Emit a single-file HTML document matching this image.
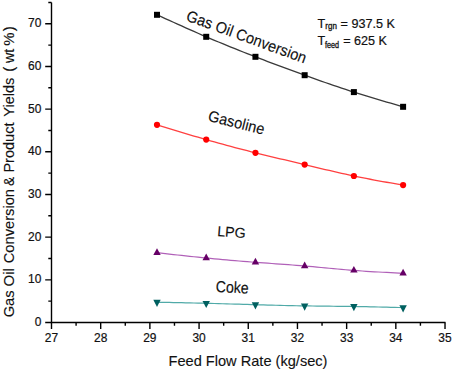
<!DOCTYPE html>
<html><head><meta charset="utf-8"><style>
html,body{margin:0;padding:0;background:#fff;}
svg{display:block;}
.t{font-family:"Liberation Sans",sans-serif;font-size:12.6px;fill:#111;stroke:#111;stroke-width:0.2px;}
.ti{font-family:"Liberation Sans",sans-serif;font-size:14.6px;fill:#111;stroke:#111;stroke-width:0.12px;}
.s{font-size:8.4px;stroke-width:0.3px;}
</style></head><body>
<svg width="456" height="370" viewBox="0 0 456 370">
<path d="M51.5,2.5 V322.5 H445.5" fill="none" stroke="#000" stroke-width="1.4"/>
<path d="M45.2,322.50 H51.5 M48.3,301.17 H51.5 M45.2,279.83 H51.5 M48.3,258.50 H51.5 M45.2,237.16 H51.5 M48.3,215.82 H51.5 M45.2,194.49 H51.5 M48.3,173.16 H51.5 M45.2,151.82 H51.5 M48.3,130.48 H51.5 M45.2,109.15 H51.5 M48.3,87.81 H51.5 M45.2,66.48 H51.5 M48.3,45.14 H51.5 M45.2,23.81 H51.5 M48.3,2.47 H51.5 M51.50,322.5 V329.0 M76.09,322.5 V325.7 M100.69,322.5 V329.0 M125.28,322.5 V325.7 M149.88,322.5 V329.0 M174.47,322.5 V325.7 M199.07,322.5 V329.0 M223.66,322.5 V325.7 M248.26,322.5 V329.0 M272.86,322.5 V325.7 M297.45,322.5 V329.0 M322.04,322.5 V325.7 M346.64,322.5 V329.0 M371.24,322.5 V325.7 M395.83,322.5 V329.0 M420.42,322.5 V325.7 M445.02,322.5 V329.0" fill="none" stroke="#000" stroke-width="1.4"/>
<text transform="translate(41.4,325.90) scale(0.95,1.02)" text-anchor="end" class="t">0</text>
<text transform="translate(41.4,283.23) scale(0.95,1.02)" text-anchor="end" class="t">10</text>
<text transform="translate(41.4,240.56) scale(0.95,1.02)" text-anchor="end" class="t">20</text>
<text transform="translate(41.4,197.89) scale(0.95,1.02)" text-anchor="end" class="t">30</text>
<text transform="translate(41.4,155.22) scale(0.95,1.02)" text-anchor="end" class="t">40</text>
<text transform="translate(41.4,112.55) scale(0.95,1.02)" text-anchor="end" class="t">50</text>
<text transform="translate(41.4,69.88) scale(0.95,1.02)" text-anchor="end" class="t">60</text>
<text transform="translate(41.4,27.21) scale(0.95,1.02)" text-anchor="end" class="t">70</text>
<text transform="translate(51.50,341.7) scale(0.95,1.02)" text-anchor="middle" class="t">27</text>
<text transform="translate(100.69,341.7) scale(0.95,1.02)" text-anchor="middle" class="t">28</text>
<text transform="translate(149.88,341.7) scale(0.95,1.02)" text-anchor="middle" class="t">29</text>
<text transform="translate(199.07,341.7) scale(0.95,1.02)" text-anchor="middle" class="t">30</text>
<text transform="translate(248.26,341.7) scale(0.95,1.02)" text-anchor="middle" class="t">31</text>
<text transform="translate(297.45,341.7) scale(0.95,1.02)" text-anchor="middle" class="t">32</text>
<text transform="translate(346.64,341.7) scale(0.95,1.02)" text-anchor="middle" class="t">33</text>
<text transform="translate(395.83,341.7) scale(0.95,1.02)" text-anchor="middle" class="t">34</text>
<text transform="translate(445.02,341.7) scale(0.95,1.02)" text-anchor="middle" class="t">35</text>
<polyline points="157.00,14.80 161.10,16.67 165.20,18.54 169.31,20.40 173.41,22.26 177.51,24.12 181.61,25.96 185.71,27.80 189.81,29.63 193.91,31.44 198.02,33.25 202.12,35.03 206.22,36.80 210.32,38.55 214.42,40.28 218.53,42.00 222.63,43.70 226.73,45.39 230.83,47.06 234.93,48.71 239.03,50.35 243.13,51.98 247.24,53.60 251.34,55.21 255.44,56.80 259.54,58.38 263.64,59.96 267.75,61.52 271.85,63.08 275.95,64.63 280.05,66.16 284.15,67.69 288.25,69.21 292.35,70.72 296.46,72.22 300.56,73.71 304.66,75.20 308.76,76.68 312.86,78.15 316.96,79.60 321.07,81.05 325.17,82.49 329.27,83.91 333.37,85.32 337.47,86.71 341.57,88.08 345.68,89.44 349.78,90.78 353.88,92.10 357.98,93.40 362.08,94.68 366.19,95.94 370.29,97.19 374.39,98.42 378.49,99.64 382.59,100.85 386.69,102.05 390.80,103.24 394.90,104.43 399.00,105.62 403.10,106.80" fill="none" stroke="#3a3a3a" stroke-width="1.3"/>
<polyline points="157.00,124.80 161.10,126.06 165.20,127.32 169.31,128.58 173.41,129.83 177.51,131.08 181.61,132.32 185.71,133.56 189.81,134.79 193.91,136.01 198.02,137.22 202.12,138.41 206.22,139.60 210.32,140.77 214.42,141.93 218.53,143.08 222.63,144.21 226.73,145.33 230.83,146.43 234.93,147.53 239.03,148.61 243.13,149.67 247.24,150.73 251.34,151.77 255.44,152.80 259.54,153.82 263.64,154.82 267.75,155.82 271.85,156.81 275.95,157.79 280.05,158.77 284.15,159.74 288.25,160.71 292.35,161.68 296.46,162.65 300.56,163.62 304.66,164.60 308.76,165.58 312.86,166.57 316.96,167.55 321.07,168.53 325.17,169.51 329.27,170.48 333.37,171.44 337.47,172.39 341.57,173.32 345.68,174.23 349.78,175.13 353.88,176.00 357.98,176.85 362.08,177.67 366.19,178.47 370.29,179.26 374.39,180.03 378.49,180.78 382.59,181.52 386.69,182.25 390.80,182.97 394.90,183.68 399.00,184.39 403.10,185.10" fill="none" stroke="#ff4040" stroke-width="1.3"/>
<polyline points="157.00,252.70 161.10,253.16 165.20,253.62 169.31,254.07 173.41,254.53 177.51,254.98 181.61,255.43 185.71,255.87 189.81,256.31 193.91,256.74 198.02,257.17 202.12,257.59 206.22,258.00 210.32,258.40 214.42,258.80 218.53,259.18 222.63,259.56 226.73,259.93 230.83,260.30 234.93,260.65 239.03,260.99 243.13,261.33 247.24,261.66 251.34,261.99 255.44,262.30 259.54,262.61 263.64,262.91 267.75,263.21 271.85,263.50 275.95,263.80 280.05,264.09 284.15,264.39 288.25,264.70 292.35,265.01 296.46,265.33 300.56,265.66 304.66,266.00 308.76,266.36 312.86,266.72 316.96,267.10 321.07,267.48 325.17,267.86 329.27,268.25 333.37,268.63 337.47,269.00 341.57,269.37 345.68,269.73 349.78,270.07 353.88,270.40 357.98,270.71 362.08,271.00 366.19,271.28 370.29,271.54 374.39,271.78 378.49,272.02 382.59,272.25 386.69,272.47 390.80,272.68 394.90,272.89 399.00,273.10 403.10,273.30" fill="none" stroke="#b060b8" stroke-width="1.2"/>
<polyline points="157.00,302.20 161.10,302.28 165.20,302.37 169.31,302.46 173.41,302.54 177.51,302.63 181.61,302.72 185.71,302.81 189.81,302.90 193.91,303.00 198.02,303.10 202.12,303.20 206.22,303.30 210.32,303.41 214.42,303.52 218.53,303.63 222.63,303.74 226.73,303.86 230.83,303.98 234.93,304.10 239.03,304.22 243.13,304.34 247.24,304.46 251.34,304.58 255.44,304.70 259.54,304.82 263.64,304.94 267.75,305.05 271.85,305.16 275.95,305.27 280.05,305.38 284.15,305.48 288.25,305.58 292.35,305.67 296.46,305.75 300.56,305.83 304.66,305.90 308.76,305.96 312.86,306.02 316.96,306.07 321.07,306.12 325.17,306.16 329.27,306.21 333.37,306.25 337.47,306.29 341.57,306.34 345.68,306.39 349.78,306.44 353.88,306.50 357.98,306.57 362.08,306.64 366.19,306.72 370.29,306.80 374.39,306.89 378.49,306.99 382.59,307.08 386.69,307.18 390.80,307.28 394.90,307.39 399.00,307.49 403.10,307.60" fill="none" stroke="#50aaa8" stroke-width="1.2"/>
<rect x="154.00" y="11.80" width="6" height="6" fill="#000"/>
<rect x="203.22" y="33.80" width="6" height="6" fill="#000"/>
<rect x="252.44" y="53.80" width="6" height="6" fill="#000"/>
<rect x="301.66" y="72.20" width="6" height="6" fill="#000"/>
<rect x="350.88" y="89.10" width="6" height="6" fill="#000"/>
<rect x="400.10" y="103.80" width="6" height="6" fill="#000"/>
<circle cx="157.00" cy="124.80" r="3.1" fill="#f00"/>
<circle cx="206.22" cy="139.60" r="3.1" fill="#f00"/>
<circle cx="255.44" cy="152.80" r="3.1" fill="#f00"/>
<circle cx="304.66" cy="164.60" r="3.1" fill="#f00"/>
<circle cx="353.88" cy="176.00" r="3.1" fill="#f00"/>
<circle cx="403.10" cy="185.10" r="3.1" fill="#f00"/>
<path d="M157.00,248.20 L160.70,254.90 L153.30,254.90Z" fill="#660066"/>
<path d="M206.22,253.50 L209.92,260.20 L202.52,260.20Z" fill="#660066"/>
<path d="M255.44,257.80 L259.14,264.50 L251.74,264.50Z" fill="#660066"/>
<path d="M304.66,261.50 L308.36,268.20 L300.96,268.20Z" fill="#660066"/>
<path d="M353.88,265.90 L357.58,272.60 L350.18,272.60Z" fill="#660066"/>
<path d="M403.10,268.80 L406.80,275.50 L399.40,275.50Z" fill="#660066"/>
<path d="M157.00,307.00 L160.70,299.80 L153.30,299.80Z" fill="#006060"/>
<path d="M206.22,308.10 L209.92,300.90 L202.52,300.90Z" fill="#006060"/>
<path d="M255.44,309.50 L259.14,302.30 L251.74,302.30Z" fill="#006060"/>
<path d="M304.66,310.70 L308.36,303.50 L300.96,303.50Z" fill="#006060"/>
<path d="M353.88,311.30 L357.58,304.10 L350.18,304.10Z" fill="#006060"/>
<path d="M403.10,312.40 L406.80,305.20 L399.40,305.20Z" fill="#006060"/>
<text x="248" y="366" text-anchor="middle" class="ti">Feed Flow Rate (kg/sec)</text>
<text transform="translate(13.6,317.3) rotate(-90) scale(0.98,1.03)" class="ti" style="font-size:15px">Gas</text>
<text transform="translate(13.6,286.4) rotate(-90) scale(1.0,1.03)" class="ti" style="font-size:15px">Oil</text>
<text transform="translate(13.6,263.3) rotate(-90) scale(0.98,1.03)" class="ti" style="font-size:15px">Conversion</text>
<text transform="translate(13.6,186.1) rotate(-90) scale(0.92,1.03)" class="ti" style="font-size:15px">&amp;</text>
<text transform="translate(13.6,172.6) rotate(-90) scale(0.97,1.03)" class="ti" style="font-size:15px">Product</text>
<text transform="translate(13.6,116.7) rotate(-90) scale(0.97,1.03)" class="ti" style="font-size:15px">Yields</text>
<text transform="translate(13.6,71.8) rotate(-90) scale(1.0,1.03)" class="ti" style="font-size:15px">(</text>
<text transform="translate(13.6,63.0) rotate(-90) scale(0.95,1.03)" class="ti" style="font-size:15px">wt</text>
<text transform="translate(13.6,45.8) rotate(-90) scale(0.99,1.03)" class="ti" style="font-size:15px">%</text>
<text transform="translate(13.6,31.3) rotate(-90) scale(1.0,1.03)" class="ti" style="font-size:15px">)</text>
<text transform="translate(185.3,20.2) rotate(20) scale(1,1.08)" class="ti">Gas Oil Conversion</text>
<text transform="translate(207.2,120.7) rotate(14) scale(1,1.07)" class="ti">Gasoline</text>
<text transform="translate(216.9,236.0) rotate(4.5) scale(0.98,0.98)" class="ti">LPG</text>
<text transform="translate(215.5,291.9) rotate(3) scale(0.97,1.1)" class="ti">Coke</text>
<text x="317.5" y="27.8" class="t">T</text>
<text transform="translate(325.3,29.1) scale(0.95,1)" class="t s">rgn</text>
<text x="340.6" y="27.8" class="t">= 937.5 K</text>
<text x="317.5" y="44.9" class="t">T</text>
<text transform="translate(324.9,47.5) scale(0.86,1)" class="t s">feed</text>
<text x="343.2" y="44.9" class="t">= 625 K</text>
</svg>
</body></html>
